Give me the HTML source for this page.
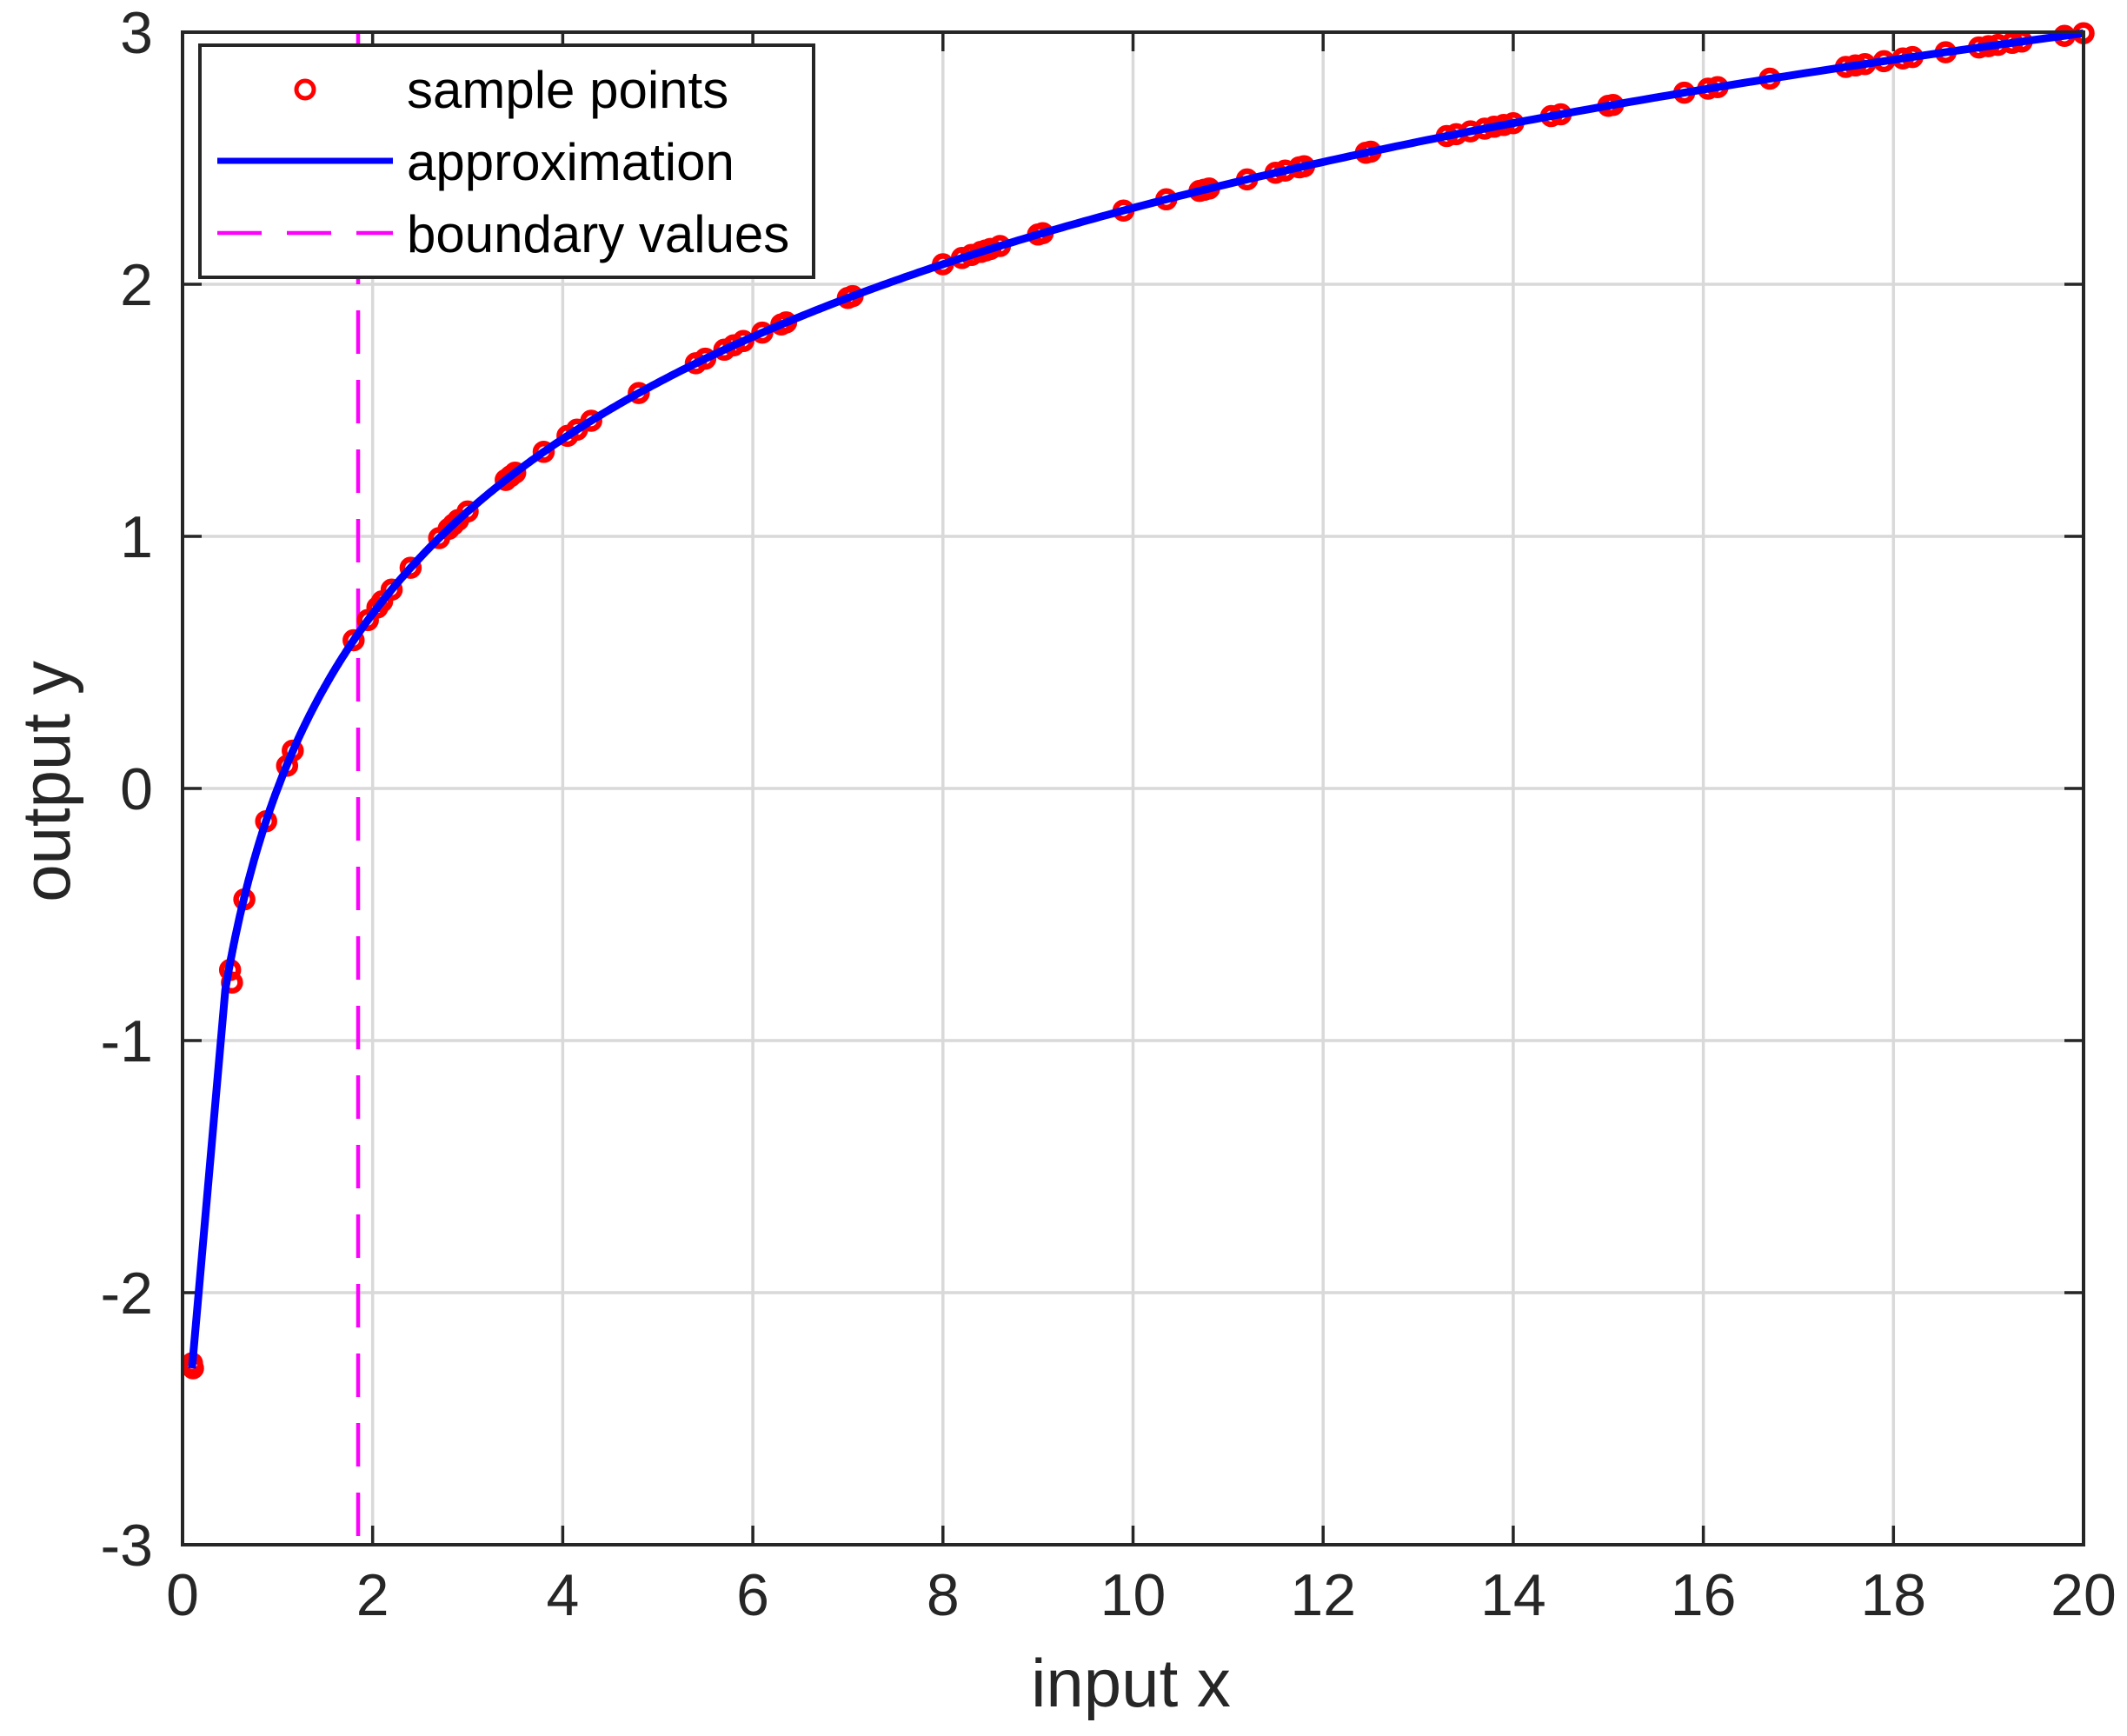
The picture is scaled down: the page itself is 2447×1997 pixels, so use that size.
<!DOCTYPE html>
<html><head><meta charset="utf-8"><style>
html,body{margin:0;padding:0;background:#fff}
svg{display:block}
text{font-family:"Liberation Sans",Arial,sans-serif;fill:#262626}
</style></head><body>
<svg id="s" width="2447" height="1997" viewBox="0 0 2447 1997" xmlns="http://www.w3.org/2000/svg">
<g id="grid" stroke="#d9d9d9" stroke-width="3.5"></g>
<g id="ticks" stroke="#262626" stroke-width="3.5"></g>
<g id="labels" font-size="68"></g>
<line x1="412" y1="37" x2="412" y2="1777" stroke="#ff00ff" stroke-width="4.5" stroke-dasharray="50,30"/>
<g id="pts" fill="none" stroke="#ff0000" stroke-width="6.5"></g>
<path id="curve" fill="none" stroke="#0000ff" stroke-width="9"/>
<rect x="210" y="37" width="2187" height="1740" fill="none" stroke="#262626" stroke-width="4"/>
<rect x="230" y="52" width="706" height="267" fill="#fff" stroke="#262626" stroke-width="4"/>
<circle cx="351" cy="103" r="10" fill="none" stroke="#ff0000" stroke-width="5"/>
<line x1="250" y1="185" x2="452" y2="185" stroke="#0000ff" stroke-width="7"/>
<line x1="250" y1="268" x2="452" y2="268" stroke="#ff00ff" stroke-width="4.5" stroke-dasharray="51,29"/>
<g font-size="60">
<text x="468" y="124" style="fill:#000">sample points</text>
<text x="468" y="207" style="fill:#000">approximation</text>
<text x="468" y="290" style="fill:#000">boundary values</text>
</g>
<text x="1301" y="1963" font-size="78" text-anchor="middle">input x</text>
<text transform="translate(80,899) rotate(-90)" font-size="78" text-anchor="middle">output y</text>
</svg>
<script>
var X0=210,X1=2397,Y0=37,Y1=1777;
function px(x){return X0+(x/20)*(X1-X0);}
function py(y){return Y1-((y+3)/6)*(Y1-Y0);}
var ns="http://www.w3.org/2000/svg";
function el(p,t,a,txt){var e=document.createElementNS(ns,t);for(var k in a)e.setAttribute(k,a[k]);if(txt!==undefined)e.textContent=txt;document.getElementById(p).appendChild(e);}
for(var i=0;i<=10;i++){var x=px(i*2);
 if(i>0&&i<10)el("grid","line",{x1:x,y1:Y0,x2:x,y2:Y1});
 el("ticks","line",{x1:x,y1:Y1,x2:x,y2:Y1-22});el("ticks","line",{x1:x,y1:Y0,x2:x,y2:Y0+22});
 el("labels","text",{x:x,y:1858,"text-anchor":"middle"},String(i*2));}
for(var j=-3;j<=3;j++){var y=py(j);
 if(j>-3&&j<3)el("grid","line",{x1:X0,y1:y,x2:X1,y2:y});
 el("ticks","line",{x1:X0,y1:y,x2:X0+22,y2:y});el("ticks","line",{x1:X1,y1:y,x2:X1-22,y2:y});
 el("labels","text",{x:176,y:y+24,"text-anchor":"end"},String(j));}
var d="M"+px(0.1).toFixed(1)+","+py(-2.3).toFixed(1);
for(var k=0;k<=600;k++){var x=0.45*Math.pow(20/0.45,k/600);d+="L"+px(x).toFixed(1)+","+py(Math.log(x)).toFixed(1);}
document.getElementById("curve").setAttribute("d",d);
var P=[[0.1,-2.28],[0.11,-2.3],[0.5,-0.72],[0.52,-0.77],[0.65,-0.44],[0.88,-0.13],[1.1,0.09],[1.16,0.15]];
var Q=[1.8,1.95,2.05,2.1,2.2,2.4,2.7,2.8,2.85,2.9,3.0,3.4,3.45,3.5,3.8,4.05,4.15,4.3,4.8,5.4,5.5,5.7,5.8,5.9,6.1,6.3,6.35,7.0,7.05,8.0,8.2,8.3,8.4,8.45,8.5,8.6,9.0,9.05,9.9,10.35,10.7,10.75,10.8,11.2,11.5,11.6,11.75,11.8,12.45,12.5,13.3,13.4,13.55,13.7,13.8,13.9,14.0,14.4,14.5,15.0,15.05,15.8,16.05,16.15,16.7,17.5,17.6,17.7,17.9,18.1,18.2,18.55,18.9,19.0,19.1,19.25,19.35,19.8,20.0];
Q.forEach(function(x){P.push([x,Math.log(x)]);});
P.forEach(function(p){el("pts","circle",{cx:px(p[0]).toFixed(1),cy:py(p[1]).toFixed(1),r:9.5});});
</script>
</body></html>
